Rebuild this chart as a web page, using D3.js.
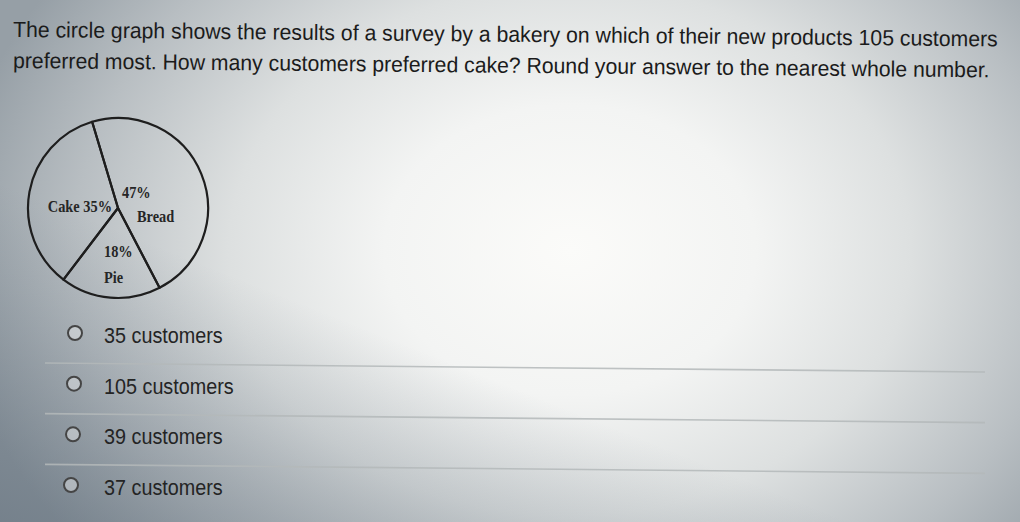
<!DOCTYPE html>
<html>
<head>
<meta charset="utf-8">
<script src="https://cdn.jsdelivr.net/npm/d3@7/dist/d3.min.js"></script>
<style>
  html, body { margin: 0; padding: 0; background: #d9dcdc; }
  svg { display: block; }
</style>
</head>
<body>
<script>
// ---- data ----
const questionLines = [
  "The circle graph shows the results of a survey by a bakery on which of their new products 105 customers",
  "preferred most. How many customers preferred cake? Round your answer to the nearest whole number."
];
const categories = ["Bread", "Pie", "Cake"];
const values = [47, 18, 35];
const answerOptions = ["35 customers", "105 customers", "39 customers", "37 customers"];

const W = 1020, H = 522;
const svg = d3.select("body").append("svg").attr("width", W).attr("height", H);
const defs = svg.append("defs");

// background (photo lighting)
const rg = defs.append("radialGradient").attr("id", "bg")
  .attr("gradientUnits", "userSpaceOnUse")
  .attr("cx", 570).attr("cy", 250).attr("r", 620)
  .attr("gradientTransform", "translate(570,250) scale(1,0.78) translate(-570,-250)");
[[0, "#fbfbf9"], [0.3, "#f3f4f3"], [0.55, "#dde0e0"], [0.8, "#b8bec2"], [1, "#969fa6"]]
  .forEach(([o, c]) => rg.append("stop").attr("offset", o).attr("stop-color", c));
const lg = defs.append("linearGradient").attr("id", "shade")
  .attr("x1", 0.7).attr("y1", 0.1).attr("x2", 0).attr("y2", 1);
lg.append("stop").attr("offset", 0).attr("stop-color", "#4e5d6c").attr("stop-opacity", 0);
lg.append("stop").attr("offset", 0.55).attr("stop-color", "#4e5d6c").attr("stop-opacity", 0);
lg.append("stop").attr("offset", 1).attr("stop-color", "#4e5d6c").attr("stop-opacity", 0.45);

svg.append("rect").attr("width", W).attr("height", H).attr("fill", "url(#bg)");
svg.append("rect").attr("width", W).attr("height", H).attr("fill", "url(#shade)");

// ---- question text (slightly tilted, as photographed) ----
const lineWidths = [985, 977];
const lineY = [37, 68];
questionLines.forEach((line, i) => {
  const t = svg.append("text")
    .attr("font-family", "'Liberation Sans', Arial, sans-serif")
    .attr("font-size", 20)
    .attr("fill", "#1b1b1b")
    .text(line);
  const natural = t.node().getComputedTextLength();
  const sx = lineWidths[i] / natural;
  t.attr("transform", `rotate(0.55, 13, ${lineY[i]}) translate(13,${lineY[i]}) scale(${sx.toFixed(4)},1.1)`);
});

// ---- pie chart ----
const cx = 118, cy = 208, R = 90;
const pie = d3.pie().sort(null).value(d => d)
  .startAngle(-16.7 * Math.PI / 180)
  .endAngle((360 - 16.7) * Math.PI / 180);
const arcs = pie(values);
const arcGen = d3.arc().innerRadius(0).outerRadius(R);

const pg = svg.append("g").attr("transform", `translate(${cx},${cy})`);
pg.selectAll("path").data(arcs).join("path")
  .attr("d", arcGen)
  .attr("fill", "none")
  .attr("stroke", "#1e1e1e")
  .attr("stroke-width", 2.2)
  .attr("stroke-linejoin", "round");

// labels (positions relative to pie centre)
const labelFont = "'Liberation Serif', 'DejaVu Serif', serif";
const labelSpec = {
  Bread: [{ t: d => d.value + "%", dx: 4, dy: -10, anchor: "start" }, { t: () => "Bread", dx: 19, dy: 14, anchor: "start" }],
  Pie: [{ t: d => d.value + "%", dx: -14, dy: 49, anchor: "start" }, { t: () => "Pie", dx: -14, dy: 75, anchor: "start" }],
  Cake: [{ t: d => "Cake " + d.value + "%", dx: -6, dy: 4, anchor: "end" }]
};
arcs.forEach((a, i) => {
  const cat = categories[i];
  labelSpec[cat].forEach(s => {
    pg.append("text")
      .attr("transform", `translate(${s.dx},${s.dy}) scale(0.82,1)`)
      .attr("text-anchor", s.anchor)
      .attr("font-family", labelFont)
      .attr("font-weight", "bold")
      .attr("font-size", 17.5)
      .attr("fill", "#262626")
      .text(s.t({ value: a.data }));
  });
});

// ---- answer options ----
const optY = d3.scalePoint().domain(answerOptions).range([343, 495]);
const radioX = [75, 74, 73, 71];
const og = svg.append("g");
const dividers = answerOptions.slice(0, -1);
og.selectAll("line.div").data(dividers).join("line")
  .attr("class", "div")
  .attr("x1", 45).attr("x2", 985)
  .attr("y1", d => optY(d) + 20)
  .attr("y2", d => optY(d) + 29)
  .attr("stroke", "#b4b9ba")
  .attr("stroke-width", 1.6)
  .attr("opacity", 0.85);

og.selectAll("circle.radio").data(answerOptions).join("circle")
  .attr("class", "radio")
  .attr("cx", (d, i) => radioX[i])
  .attr("cy", d => optY(d) - 10)
  .attr("r", 7)
  .attr("fill", "#f4f5f5")
  .attr("fill-opacity", 0.4)
  .attr("stroke", "#454545")
  .attr("stroke-width", 2);

og.selectAll("text.opt").data(answerOptions).join("text")
  .attr("class", "opt")
  .attr("transform", d => `translate(104,${optY(d)}) scale(0.92,1.05)`)
  .attr("font-family", "'Liberation Sans', Arial, sans-serif")
  .attr("font-size", 21.5)
  .attr("fill", "#242424")
  .text(d => d);
</script>
</body>
</html>
